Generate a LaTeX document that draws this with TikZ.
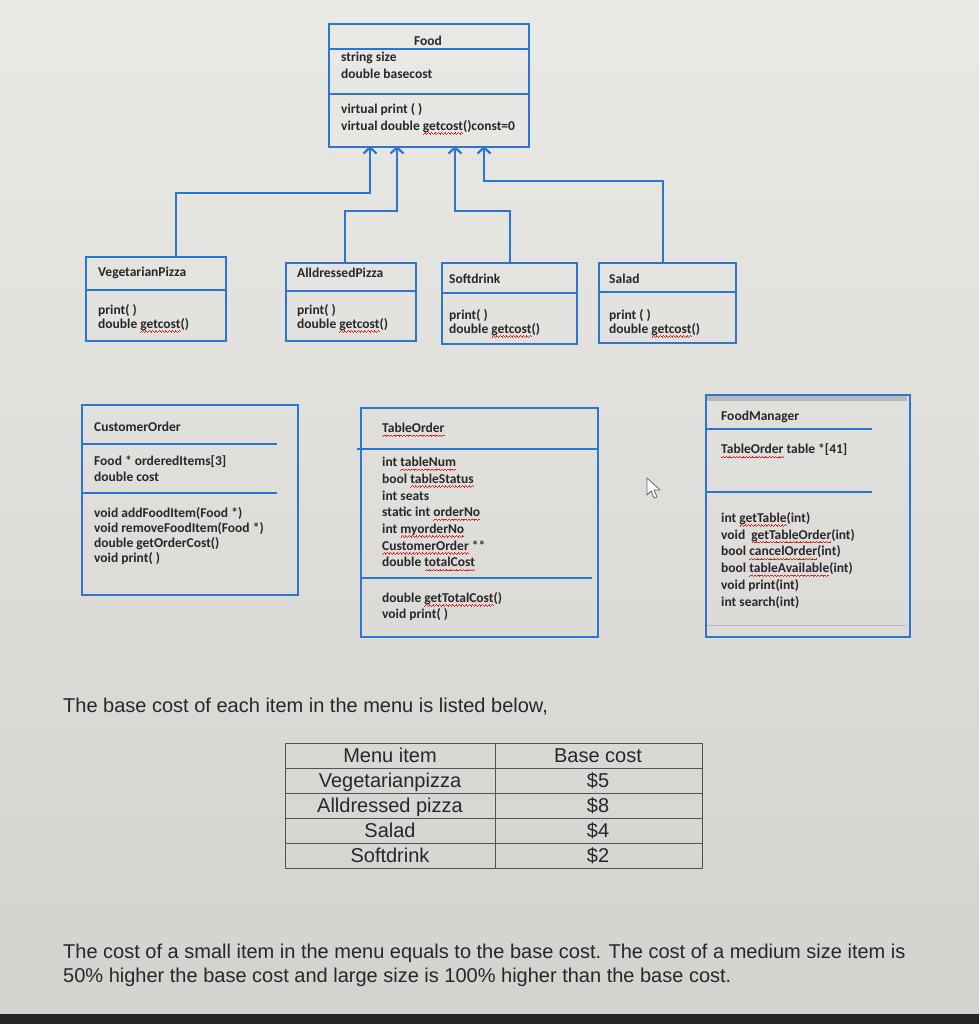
\documentclass[tikz,border=0pt]{standalone}
\usepackage{fontspec}
\setmainfont{Liberation Sans}
\newfontfamily\umlfont{Carlito}
\usetikzlibrary{arrows.meta}

\definecolor{umlblue}{RGB}{44,118,204}
\definecolor{umlink}{RGB}{40,38,42}
\definecolor{bgtop}{RGB}{233,233,230}
\definecolor{bgbot}{RGB}{212,210,206}
\definecolor{framegray}{RGB}{185,185,185}
\definecolor{spellred}{RGB}{215,40,40}

% red wavy spell-check underline, built from small rules
\newcommand\wavebit{\rule[-4.2pt]{0.8pt}{0.8pt}\rule[-3.5pt]{0.8pt}{0.8pt}\rule[-2.8pt]{0.8pt}{0.8pt}\rule[-3.5pt]{0.8pt}{0.8pt}}
\newcommand\spell[1]{\setbox0=\hbox{#1}\rlap{\color{spellred}\hbox to \wd0{\xleaders\hbox{\wavebit}\hfil}}\box0\relax}

\tikzset{
	umlbox/.style={draw=umlblue, line width=2.4pt, inner sep=0pt, anchor=north west},
	sepline/.style={umlblue, line width=2.4pt},
	uml/.style={font=\umlfont\bfseries\fontsize{13.5}{#1}\selectfont, text=umlink, inner sep=0pt, align=left, anchor=north west},
	uml/.default=17,
	inherit/.style={umlblue, line width=2.4pt, -{Straight Barb[length=6pt, width=13pt, line width=2.2pt]}},
	plain/.style={font=\fontsize{20}{24}\selectfont, text=umlink, inner sep=0pt},
	tabline/.style={draw=umlink!80, line width=1pt}
}

\begin{document}
\begin{tikzpicture}[x=1pt, y=-1pt]
	\useasboundingbox (0,0) rectangle (979,1024);
	\shade[top color=bgtop, bottom color=bgbot] (0,0) rectangle (979,1014);
	\fill[black!85] (0,1014) rectangle (979,1024);

	% base class
	\node[umlbox, minimum width=200, minimum height=123] (food) at (328,23) {};
	\draw[sepline] (food.west |- 0,49) -- (food.east |- 0,49);
	\draw[sepline] (food.west |- 0,94) -- (food.east |- 0,94);
	\node[uml, anchor=center] (foodname) at (428,41) {Food};
	\node[uml] (foodattr) at (341,52) {string size\\double basecost};
	\node[uml] (foodops) at (341,103) {virtual print ( )\\virtual double \spell{getcost}()const=0};

	% derived classes
	\node[umlbox, minimum width=140, minimum height=84] (veg) at (85,256) {};
	\draw[sepline] (veg.west |- 0,290) -- (veg.east |- 0,290);
	\node[uml, anchor=west] (vegname) at (98,273) {VegetarianPizza};
	\node[uml=14] (vegops) at (98,304) {print( )\\double \spell{getcost}()};

	\node[umlbox, minimum width=130, minimum height=78] (alld) at (285,262) {};
	\draw[sepline] (alld.west |- 0,291) -- (alld.east |- 0,291);
	\node[uml, anchor=west] (alldname) at (297,273) {AlldressedPizza};
	\node[uml=14] (alldops) at (297,304) {print( )\\double \spell{getcost}()};

	\node[umlbox, minimum width=135, minimum height=81] (soft) at (441,262) {};
	\draw[sepline] (soft.west |- 0,293) -- (soft.east |- 0,293);
	\node[uml, anchor=west] (softname) at (449,279) {Softdrink};
	\node[uml=14] (softops) at (449,309) {print( )\\double \spell{getcost}()};

	\node[umlbox, minimum width=137, minimum height=80] (salad) at (598,262) {};
	\draw[sepline] (salad.west |- 0,292) -- (salad.east |- 0,292);
	\node[uml, anchor=west] (saladname) at (609,279) {Salad};
	\node[uml=14] (saladops) at (609,309) {print ( )\\double \spell{getcost}()};

	% generalisation arrows
	\coordinate (tipveg) at (370,146);
	\coordinate (tipalld) at (397,146);
	\coordinate (tipsoft) at (455,146);
	\coordinate (tipsalad) at (484,146);
	\draw[inherit] (veg.north -| 176,0) |- (0,193 -| tipveg) -- (tipveg);
	\draw[inherit] (alld.north -| 345,0) |- (0,211 -| tipalld) -- (tipalld);
	\draw[inherit] (soft.north -| 510,0) |- (0,211 -| tipsoft) -- (tipsoft);
	\draw[inherit] (salad.north -| 663,0) |- (0,181 -| tipsalad) -- (tipsalad);

	% order classes
	\node[umlbox, minimum width=216, minimum height=190] (cust) at (81,404) {};
	\draw[sepline] (cust.west |- 0,444) -- (277,444);
	\draw[sepline] (cust.west |- 0,493) -- (277,493);
	\node[uml, anchor=west] (custname) at (94,427) {CustomerOrder};
	\node[uml=16] (custattr) at (94,455) {Food * orderedItems[3]\\double cost};
	\node[uml=15] (custops) at (94,507) {void addFoodItem(Food *)\\void removeFoodItem(Food *)\\double getOrderCost()\\void print( )};

	\node[umlbox, minimum width=237, minimum height=229] (table) at (360,407) {};
	\draw[sepline] (357,449) -- (table.east |- 0,449);
	\draw[sepline] (table.west |- 0,578) -- (592,578);
	\node[uml, anchor=west] (tablename) at (382,430) {\spell{TableOrder}};
	\node[uml=16.7] (tableattr) at (382,457) {int \spell{tableNum}\\bool \spell{tableStatus}\\int seats\\static int \spell{orderNo}\\int \spell{myorderNo}\\\spell{CustomerOrder} **\\double \spell{totalCost}};
	\node[uml=16.7] (tableops) at (382,592) {double \spell{getTotalCost}()\\void print( )};

	\node[umlbox, minimum width=204, minimum height=242] (mgr) at (705,394) {};
	\fill[framegray] (707,396) rectangle (907,401);
	\draw[framegray, line width=1pt] (707,625) -- (907,625);
	\draw[sepline] (mgr.west |- 0,429) -- (872,429);
	\draw[sepline] (mgr.west |- 0,492) -- (872,492);
	\node[uml, anchor=west] (mgrname) at (721,417) {FoodManager};
	\node[uml, anchor=west] (mgrattr) at (721,451) {\spell{TableOrder} table *[41]};
	\node[uml=16.8] (mgrops) at (721,512) {int \spell{getTable}(int)\\void \ \spell{getTableOrder}(int)\\bool \spell{cancelOrder}(int)\\bool \spell{tableAvailable}(int)\\void print(int)\\int search(int)};

	% mouse pointer
	\draw[fill=white, draw=black!60, line width=0.8pt, line join=round] (647,478) -- (647,495) -- (651,491) -- (654,498) -- (657,497) -- (654,490) -- (660,490) -- cycle;

	% menu text and table
	\node[plain, anchor=west] (intro) at (63,707) {The base cost of each item in the menu is listed below,};
	\draw[tabline] (285,743) rectangle (702,868);
	\draw[tabline] (495,743) -- (495,868);
	\foreach \y in {768,793,818,843}
		\draw[tabline] (285,\y) -- (702,\y);
	\foreach \item/\cost [count=\i from 0] in {Menu item/Base cost, Vegetarianpizza/\$5, Alldressed pizza/\$8, Salad/\$4, Softdrink/\$2} {
		\node[plain, anchor=base] (item\i) at (390,762.7+25*\i) {\item};
		\node[plain, anchor=base] (cost\i) at (598,762.7+25*\i) {\cost};
	}
	\node[plain, anchor=north west, align=left] (note) at (63,944) {The cost of a small item in the menu equals to the base cost. The cost of a medium size item is\\50\% higher the base cost and large size is 100\% higher than the base cost.};
\end{tikzpicture}
\end{document}
